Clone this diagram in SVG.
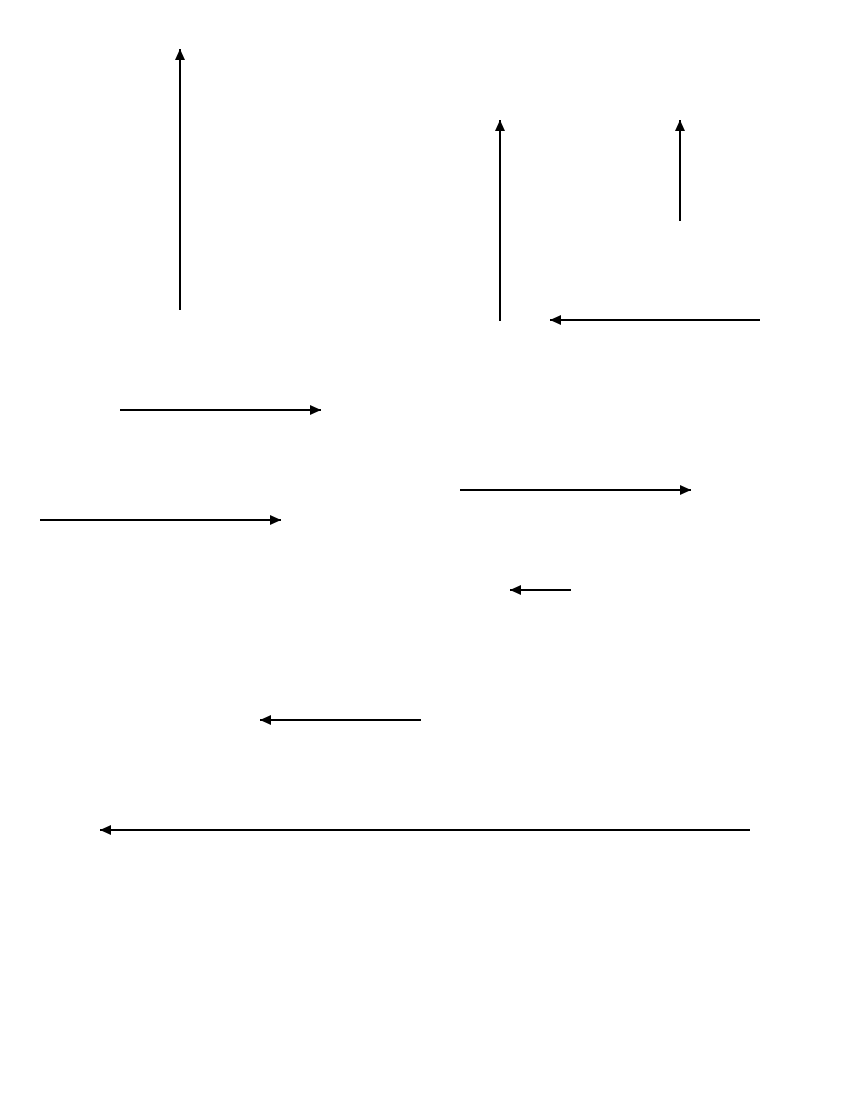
<svg xmlns="http://www.w3.org/2000/svg" width="850" height="1100" viewBox="0 0 850 1100">
<style>
.c{stroke:#000;stroke-width:2;fill:none;marker-end:url(#ah)}
</style>
<defs>
<marker id="ah" markerUnits="userSpaceOnUse" markerWidth="12" markerHeight="10" refX="11" refY="5" orient="auto">
<path d="M0,0 L11,5 L0,10 Z" fill="#000"/>
</marker>
</defs>
<rect width="850" height="1100" fill="#fff"/>
<g id="connectors">
<line class="c" x1="180" y1="310" x2="180" y2="49"/>
<line class="c" x1="500" y1="321" x2="500" y2="120"/>
<line class="c" x1="680" y1="221" x2="680" y2="120"/>
<line class="c" x1="760" y1="320" x2="550" y2="320"/>
<line class="c" x1="120" y1="410" x2="321" y2="410"/>
<line class="c" x1="460" y1="490" x2="691" y2="490"/>
<line class="c" x1="40" y1="520" x2="281" y2="520"/>
<line class="c" x1="571" y1="590" x2="510" y2="590"/>
<line class="c" x1="421" y1="720" x2="260" y2="720"/>
<line class="c" x1="750" y1="830" x2="100" y2="830"/>
</g>
</svg>
